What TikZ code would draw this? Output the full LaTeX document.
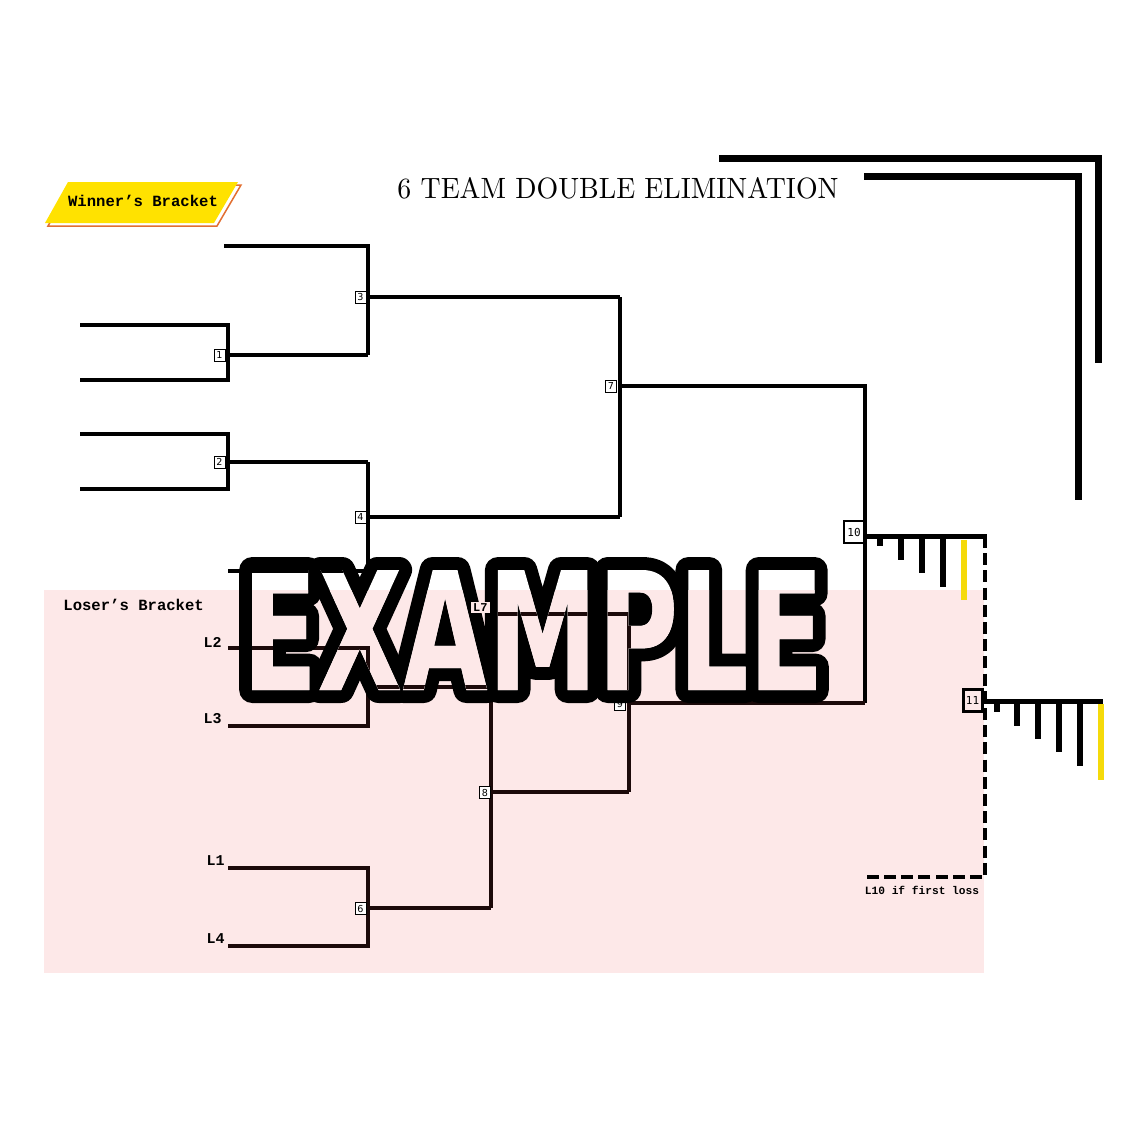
\documentclass[tikz,border=0pt]{standalone}
\usepackage{graphicx}
\usepackage{fontspec}
\newfontfamily\monofont{Liberation Mono}
\newfontfamily\boxfont{DejaVu Sans}
\newfontfamily\boxmono{DejaVu Sans Mono}
\newfontfamily\exfont[FakeStretch=0.67]{DejaVu Sans}
\definecolor{pinkbg}{RGB}{253,232,232}
\definecolor{wyellow}{RGB}{255,226,0}
\definecolor{worange}{RGB}{226,112,50}
\definecolor{tickyellow}{RGB}{245,218,10}
\definecolor{lline}{RGB}{28,10,10}
\tikzset{
  wline/.style={line width=2pt, line join=miter},
  lbr/.style={line width=2pt, line join=miter, draw=lline},
  mbox/.style={draw, fill=white, line width=0.5pt, minimum width=5.5pt, minimum height=6pt, inner sep=0pt,
    font=\boxfont\fontsize{4.8pt}{5pt}\selectfont},
  bigbox/.style={draw, fill=white, line width=1pt, minimum width=10pt, minimum height=11pt, inner sep=0pt,
    font=\boxmono\fontsize{5.5pt}{6pt}\selectfont},
  tick/.style={line width=3pt},
  ytick/.style={line width=3pt, draw=tickyellow},
  mlabel/.style={inner sep=0pt, font=\monofont\bfseries\fontsize{7.5pt}{9pt}\selectfont},
  corner/.style={line width=3.5pt, line join=miter}}
\newsavebox\exbox
\newlength\exhalf
\newcommand\exword{\exfont\bfseries\fontsize{82.3pt}{84pt}\selectfont EXAMPLE}
% background and all lines (no text)
\newcommand\drawbase{%
\fill[white] (0,0) rectangle (1140,1140);
\fill[pinkbg] (44,590) rectangle (984,973);
\draw[corner] (719,158) -- (1098,158) -- (1098,363);
\draw[corner] (864,176) -- (1078,176) -- (1078,500);
\filldraw[fill=white, draw=worange, line width=0.75pt] (48,226) -- (71,185) -- (241,185) -- (217,226) -- cycle;
\fill[wyellow] (45,223) -- (68,182) -- (238,182) -- (214,223) -- cycle;
% winner's bracket
\draw[wline] (80,325) -- (228,325) -- (228,380) -- (80,380);
\draw[wline] (228,355) -- (368,355);
\draw[wline] (80,434) -- (228,434) -- (228,489) -- (80,489);
\draw[wline] (228,462) -- (368,462);
\draw[wline] (224,246) -- (368,246) -- (368,355);
\draw[wline] (368,297) -- (620,297);
\draw[wline] (228,571) -- (368,571) -- (368,462);
\draw[wline] (368,517) -- (620,517);
\draw[wline] (620,297) -- (620,517);
\draw[wline] (620,386) -- (865,386) -- (865,703);
% loser's bracket
\draw[lbr] (228,648) -- (368,648) -- (368,726) -- (228,726);
\draw[lbr] (368,687) -- (491,687);
\draw[lbr] (228,868) -- (368,868) -- (368,946) -- (228,946);
\draw[lbr] (368,908) -- (491,908);
\draw[lbr] (491,687) -- (491,908);
\draw[lbr] (491,792) -- (629,792);
\draw[lbr] (491,614) -- (629,614) -- (629,792);
\draw[lbr] (629,703) -- (865,703);
% final
\draw[line width=2.5pt] (865,536) -- (987,536);
\draw[tick] (880,536) -- (880,546);
\draw[tick] (901,536) -- (901,560);
\draw[tick] (922,536) -- (922,573);
\draw[tick] (943,536) -- (943,587);
\draw[ytick] (964,540) -- (964,600);
\draw[line width=2.25pt, dash pattern=on 6pt off 2.6pt] (985,536) -- (985,877) -- (867,877);
\draw[line width=2.5pt] (984,701) -- (1103,701);
\draw[tick] (997,701) -- (997,712);
\draw[tick] (1017,701) -- (1017,726);
\draw[tick] (1038,701) -- (1038,739);
\draw[tick] (1059,701) -- (1059,752);
\draw[tick] (1080,701) -- (1080,766);
\draw[ytick] (1101,704) -- (1101,780);
}
\begin{document}
\begin{tikzpicture}[x=0.5pt,y=-0.5pt]
\useasboundingbox (0,0) rectangle (1140,1140);
\drawbase
% texts
\node[inner sep=0pt] (title) at (618,188.5) {\resizebox{220.5pt}{10.5pt}{6 TEAM DOUBLE ELIMINATION}};
\node[inner sep=0pt, font=\monofont\bfseries\fontsize{7.8pt}{9pt}\selectfont] (wlabel) at (143,201) {Winner’s Bracket};
\node[inner sep=0pt, anchor=west, font=\monofont\bfseries\fontsize{7.8pt}{9pt}\selectfont] (llabel) at (63,605) {Loser’s Bracket};
\node[mlabel, anchor=east] (l2) at (222,642) {L2};
\node[mlabel, anchor=east] (l3) at (222,719) {L3};
\node[mlabel, anchor=east] (l1) at (225,861) {L1};
\node[mlabel, anchor=east] (l4) at (225,939) {L4};
\node[inner sep=0pt, font=\monofont\bfseries\fontsize{5.6pt}{7pt}\selectfont] (l10) at (922,890) {L10 if first loss};
% match boxes
\node[mbox] (m1) at (219.5,355) {1};
\node[mbox] (m2) at (219.5,462) {2};
\node[mbox] (m3) at (360.5,297.5) {3};
\node[mbox] (m4) at (360.5,517) {4};
\node[mbox] (m6) at (360.5,908.5) {6};
\node[mbox] (m7) at (611,386) {7};
\node[mbox] (m8) at (485,792.5) {8};
\node[mbox] (m9) at (620,704) {9};
\node[bigbox] (m10) at (854,532) {10};
\node[bigbox, fill=pinkbg, line width=1.5pt, minimum width=9.5pt] (m11) at (972.5,700.5) {11};
% watermark: letters filled and stroked black, then used as a clip to redraw the diagram inside them
\node[inner sep=0pt, anchor=base] (ex) at (533,690) {\sbox\exbox{\exword}\setlength\exhalf{0.5\wd\exbox}\special{pdf:literal direct q 6 Tr 12.95 w 1 j 1 J}\usebox\exbox\special{pdf:literal direct 0 Tr}\begin{tikzpicture}[overlay, x=0.5pt, y=-0.5pt]\begin{scope}[xshift=-\exhalf]\begin{scope}[shift={(-533,-690)}]\drawbase\end{scope}\end{scope}\end{tikzpicture}\special{pdf:literal direct Q}};
\node[inner sep=1pt, fill=pinkbg, anchor=east, font=\monofont\bfseries\fontsize{6pt}{7pt}\selectfont] (l7) at (490,607.5) {L7};
\end{tikzpicture}
\end{document}
